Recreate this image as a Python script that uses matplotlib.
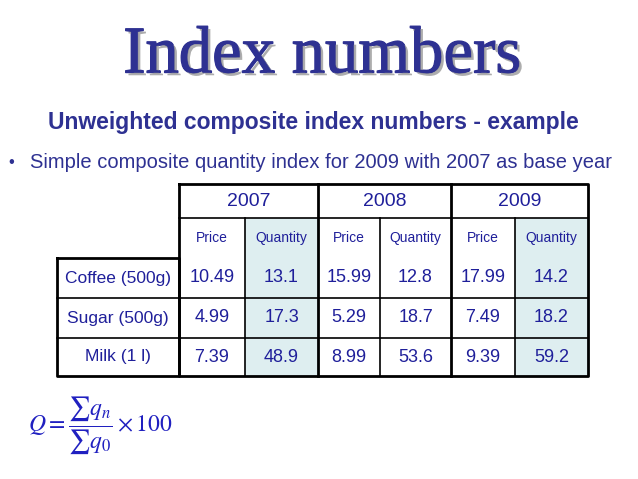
import matplotlib
matplotlib.use("Agg")
import matplotlib.pyplot as plt
from matplotlib.patches import Rectangle
import matplotlib.patheffects as pe

years = ["2007", "2008", "2009"]
subheads = ["Price", "Quantity"]
items = ["Coffee (500g)", "Sugar (500g)", "Milk (1 l)"]
prices = [[10.49, 15.99, 17.99], [4.99, 5.29, 7.49], [7.39, 8.99, 9.39]]
quantities = [[13.1, 12.8, 14.2], [17.3, 18.7, 18.2], [48.9, 53.6, 59.2]]

plt.rcParams['mathtext.fontset'] = 'stix'
NAR = ['Liberation Sans', 'DejaVu Sans']
blue = '#1f1f9a'
navy = '#2E3192'

fig = plt.figure(figsize=(6.38, 4.79), dpi=100)
ax = fig.add_axes([0, 0, 1, 1])
ax.set_xlim(0, 638); ax.set_ylim(479, 0); ax.axis('off')

ax.text(322, 56, "Index numbers", ha='center', va='center', fontsize=48,
        family='Liberation Serif', color=navy,
        path_effects=[pe.withStroke(linewidth=1, foreground=navy),
                      pe.withSimplePatchShadow(offset=(2, -2), shadow_rgbFace='#999999', alpha=0.8), pe.Normal()])
ax.text(313, 122, "Unweighted composite index numbers - example", ha='center', va='center',
        fontsize=16.5, fontweight='bold', family=NAR, color=navy)
ax.text(8, 163, "•", ha='left', va='center', fontsize=12, color=navy, family='Liberation Sans')
ax.text(30, 163, "Simple composite quantity index for 2009 with 2007 as base year", ha='left',
        va='center', fontsize=14.5, family=NAR, color=navy)

xs = [179, 245, 318, 380, 451, 515, 588]
left = 57
ys = [184, 218, 258, 298, 338, 376]
fill = '#deeef0'
for j in range(3):
    if j != 1:
        ax.add_patch(Rectangle((xs[2*j+1], ys[1]), xs[2*j+2]-xs[2*j+1], ys[5]-ys[1],
                               facecolor=fill, edgecolor='none'))
lw = 1.2
ax.plot([xs[0], xs[-1], xs[-1], xs[0], xs[0]], [ys[0], ys[0], ys[-1], ys[-1], ys[0]], color='k', lw=2)
ax.plot([left, xs[0], xs[0], left, left], [ys[2], ys[2], ys[-1], ys[-1], ys[2]], color='k', lw=2)
for k in (2, 4):
    ax.plot([xs[k]] * 2, [ys[0], ys[-1]], color='k', lw=2)
for k in (1, 3, 5):
    ax.plot([xs[k]] * 2, [ys[1], ys[-1]], color='k', lw=lw)
ax.plot([xs[0], xs[-1]], [ys[1]] * 2, color='k', lw=lw)
for r in (3, 4):
    ax.plot([left, xs[-1]], [ys[r]] * 2, color='k', lw=lw)

for j, y in enumerate(years):
    ax.text((xs[2*j] + xs[2*j+2]) / 2, (ys[0] + ys[1]) / 2, y, ha='center', va='center',
            fontsize=14, family=NAR, color=blue)
    for s, h in enumerate(subheads):
        ax.text((xs[2*j+s] + xs[2*j+s+1]) / 2, (ys[1] + ys[2]) / 2, h, ha='center', va='center',
                fontsize=10, family=NAR, color=blue)
for i, it in enumerate(items):
    yc = (ys[2+i] + ys[3+i]) / 2
    ax.text((left + xs[0]) / 2, yc, it, ha='center', va='center', fontsize=12.5, family=NAR, color=blue)
    for j in range(3):
        ax.text((xs[2*j] + xs[2*j+1]) / 2, yc, f"{prices[i][j]:.2f}", ha='center', va='center',
                fontsize=13, family=NAR, color=blue)
        ax.text((xs[2*j+1] + xs[2*j+2]) / 2, yc, f"{quantities[i][j]:.1f}", ha='center', va='center',
                fontsize=13, family=NAR, color=blue)

ax.text(28, 425, r"$Q=\dfrac{\sum q_n}{\sum q_0}\times 100$", ha='left', va='center',
        fontsize=17, color='#2020c0')

fig.savefig("out.png", dpi=100)
